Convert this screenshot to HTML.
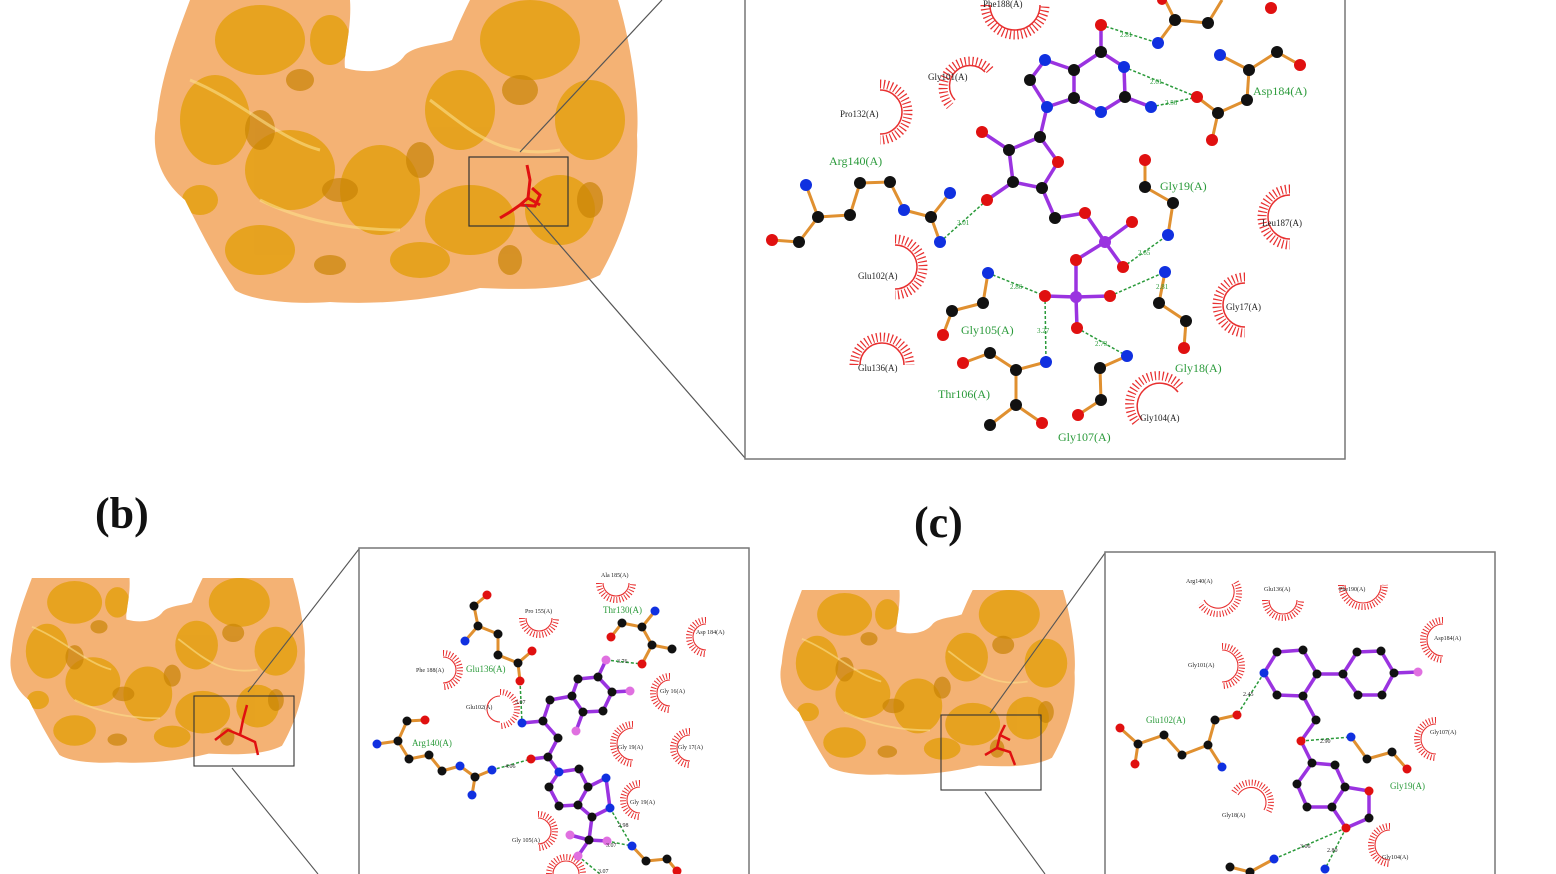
<!DOCTYPE html>
<html><head><meta charset="utf-8"><style>
html,body{margin:0;padding:0;background:#fff;}
svg{display:block;}
text{font-family:"Liberation Serif",serif;}
.lb{font-size:9px;fill:#222;}
.lg{font-size:12px;fill:#2a9a3a;}
.ls{font-size:6px;fill:#222;}
.lsg{font-size:9px;fill:#2a9a3a;}
.d{font-size:7px;fill:#2a9a3a;}
.pb line{stroke:#9a33e0;stroke-width:3.5;}
.ob line{stroke:#e09030;stroke-width:3;}
.hb line{stroke:#2a9a3a;stroke-width:1.5;stroke-dasharray:3 2;}
.k{fill:#111;} .r{fill:#e01010;} .b{fill:#1030e0;} .p{fill:#9a33e0;} .m{fill:#e070e0;}
.arc path.t{fill:none;stroke:#e83030;stroke-width:9;stroke-dasharray:1.2 2.6;}
.arc path.l{fill:none;stroke:#e83030;stroke-width:1.5;}
.arcs path.t{fill:none;stroke:#e83030;stroke-width:6;stroke-dasharray:1 2;}
.arcs path.l{fill:none;stroke:#e83030;stroke-width:1.1;}
</style></head><body>
<svg width="1556" height="874" viewBox="0 0 1556 874" xmlns="http://www.w3.org/2000/svg">
<defs>
<clipPath id="pc"><path d="M157,120 C160,80 175,40 190,0 L350,0 C352,30 343,55 345,68 C370,75 395,70 405,55 C415,45 440,45 452,40 C458,25 465,10 470,0 L618,0 C630,40 640,100 637,135 C640,190 620,240 600,275 C570,290 530,290 480,288 C430,300 380,305 330,302 C290,305 250,300 235,290 C215,260 200,230 185,200 C160,180 150,150 157,120Z"/></clipPath>
<g id="prot">
<path d="M157,120 C160,80 175,40 190,0 L350,0 C352,30 343,55 345,68 C370,75 395,70 405,55 C415,45 440,45 452,40 C458,25 465,10 470,0 L618,0 C630,40 640,100 637,135 C640,190 620,240 600,275 C570,290 530,290 480,288 C430,300 380,305 330,302 C290,305 250,300 235,290 C215,260 200,230 185,200 C160,180 150,150 157,120Z" fill="#f4b274"/>
<g clip-path="url(#pc)">
<g fill="#e4a012" opacity="0.85">
<ellipse cx="215" cy="120" rx="35" ry="45"/><ellipse cx="260" cy="40" rx="45" ry="35"/>
<ellipse cx="330" cy="40" rx="20" ry="25"/>
<ellipse cx="290" cy="170" rx="45" ry="40"/><ellipse cx="380" cy="190" rx="40" ry="45"/>
<ellipse cx="460" cy="110" rx="35" ry="40"/><ellipse cx="530" cy="40" rx="50" ry="40"/>
<ellipse cx="590" cy="120" rx="35" ry="40"/><ellipse cx="470" cy="220" rx="45" ry="35"/>
<ellipse cx="260" cy="250" rx="35" ry="25"/><ellipse cx="560" cy="210" rx="35" ry="35"/>
<ellipse cx="420" cy="260" rx="30" ry="18"/><ellipse cx="200" cy="200" rx="18" ry="15"/>
</g>
<g fill="#c98406" opacity="0.7">
<ellipse cx="260" cy="130" rx="15" ry="20"/><ellipse cx="340" cy="190" rx="18" ry="12"/>
<ellipse cx="520" cy="90" rx="18" ry="15"/><ellipse cx="420" cy="160" rx="14" ry="18"/>
<ellipse cx="590" cy="200" rx="13" ry="18"/><ellipse cx="300" cy="80" rx="14" ry="11"/>
<ellipse cx="330" cy="265" rx="16" ry="10"/><ellipse cx="510" cy="260" rx="12" ry="15"/>
</g>
<path d="M190,80 C240,100 280,140 320,150 M430,100 C470,130 500,160 560,150 M260,200 C300,220 350,230 400,230" stroke="#fbe08a" stroke-width="3" fill="none" opacity="0.6"/>
</g>
</g>
</defs>

<!-- top protein -->
<use href="#prot"/>
<rect x="469" y="157" width="99" height="69" fill="none" stroke="#333" stroke-width="1.2"/>
<path d="M500,218 L510,212 L520,205 L528,198 L530,180 L527,165 M520,205 L535,206 L540,195 L532,188 M528,198 L540,205" stroke="#e01010" stroke-width="3" fill="none"/>
<line x1="520" y1="152" x2="662" y2="0" stroke="#555" stroke-width="1.2"/>
<line x1="525" y1="205" x2="745" y2="458" stroke="#555" stroke-width="1.2"/>

<!-- top panel -->
<rect x="745" y="-2" width="600" height="461" fill="#fff" stroke="#777" stroke-width="1.5"/>

<g class="arc">
<path class="l" d="M990,5 A25,25 0 0 0 1040,5"/><path class="t" d="M985,5 A30,30 0 0 0 1045,5"/>
<path class="l" d="M985,72 A20,20 0 0 0 955,100"/><path class="t" d="M990,70 A26,26 0 0 0 950,106"/>
<path class="l" d="M880,90 A22,22 0 0 1 880,134"/><path class="t" d="M880,84 A28,28 0 0 1 880,140"/>
<path class="l" d="M895,245 A22,22 0 0 1 895,289"/><path class="t" d="M895,239 A28,28 0 0 1 895,295"/>
<path class="l" d="M860,365 A22,22 0 0 1 904,365"/><path class="t" d="M854,365 A28,28 0 0 1 910,365"/>
<path class="l" d="M1290,195 A22,22 0 0 0 1290,239"/><path class="t" d="M1290,189 A28,28 0 0 0 1290,245"/>
<path class="l" d="M1245,283 A22,22 0 0 0 1245,327"/><path class="t" d="M1245,277 A28,28 0 0 0 1245,333"/>
<path class="l" d="M1142,420 A22,22 0 0 1 1178,392"/><path class="t" d="M1136,422 A28,28 0 0 1 1180,386"/>
</g>

<g class="hb">
<line x1="1101" y1="25" x2="1158" y2="43"/><line x1="1124" y1="67" x2="1197" y2="97"/>
<line x1="1151" y1="107" x2="1197" y2="97"/><line x1="987" y1="200" x2="940" y2="242"/>
<line x1="1123" y1="267" x2="1168" y2="235"/><line x1="988" y1="273" x2="1045" y2="296"/>
<line x1="1110" y1="296" x2="1165" y2="272"/><line x1="1045" y1="296" x2="1046" y2="362"/>
<line x1="1077" y1="328" x2="1127" y2="356"/>
</g>

<g class="ob">
<line x1="1175" y1="20" x2="1208" y2="23"/><line x1="1175" y1="20" x2="1158" y2="43"/><line x1="1175" y1="20" x2="1165" y2="0"/><line x1="1208" y1="23" x2="1222" y2="0"/>
<line x1="1220" y1="55" x2="1249" y2="70"/><line x1="1249" y1="70" x2="1277" y2="52"/><line x1="1277" y1="52" x2="1300" y2="65"/><line x1="1249" y1="70" x2="1247" y2="100"/><line x1="1247" y1="100" x2="1218" y2="113"/><line x1="1218" y1="113" x2="1197" y2="97"/><line x1="1218" y1="113" x2="1212" y2="140"/>
<line x1="806" y1="185" x2="818" y2="217"/><line x1="818" y1="217" x2="799" y2="242"/><line x1="799" y1="242" x2="772" y2="240"/><line x1="818" y1="217" x2="850" y2="215"/><line x1="850" y1="215" x2="860" y2="183"/><line x1="860" y1="183" x2="890" y2="182"/><line x1="890" y1="182" x2="904" y2="210"/><line x1="904" y1="210" x2="931" y2="217"/><line x1="931" y1="217" x2="950" y2="193"/><line x1="931" y1="217" x2="940" y2="242"/>
<line x1="1145" y1="160" x2="1145" y2="187"/><line x1="1145" y1="187" x2="1173" y2="203"/><line x1="1173" y1="203" x2="1168" y2="235"/>
<line x1="1165" y1="272" x2="1159" y2="303"/><line x1="1159" y1="303" x2="1186" y2="321"/><line x1="1186" y1="321" x2="1184" y2="348"/>
<line x1="988" y1="273" x2="983" y2="303"/><line x1="983" y1="303" x2="952" y2="311"/><line x1="952" y1="311" x2="943" y2="335"/>
<line x1="1046" y1="362" x2="1016" y2="370"/><line x1="1016" y1="370" x2="990" y2="353"/><line x1="990" y1="353" x2="963" y2="363"/><line x1="1016" y1="370" x2="1016" y2="405"/><line x1="1016" y1="405" x2="1042" y2="423"/><line x1="1016" y1="405" x2="990" y2="425"/>
<line x1="1127" y1="356" x2="1100" y2="368"/><line x1="1100" y1="368" x2="1101" y2="400"/><line x1="1101" y1="400" x2="1078" y2="415"/>
</g>
<g class="pb">
<line x1="1101" y1="25" x2="1101" y2="52"/><line x1="1101" y1="52" x2="1124" y2="67"/><line x1="1124" y1="67" x2="1125" y2="97"/><line x1="1125" y1="97" x2="1101" y2="112"/><line x1="1101" y1="112" x2="1074" y2="98"/><line x1="1074" y1="98" x2="1074" y2="70"/><line x1="1074" y1="70" x2="1101" y2="52"/><line x1="1074" y1="70" x2="1045" y2="60"/><line x1="1045" y1="60" x2="1030" y2="80"/><line x1="1030" y1="80" x2="1047" y2="107"/><line x1="1047" y1="107" x2="1074" y2="98"/><line x1="1125" y1="97" x2="1151" y2="107"/>
<line x1="1047" y1="107" x2="1040" y2="137"/><line x1="1040" y1="137" x2="1058" y2="162"/><line x1="1058" y1="162" x2="1042" y2="188"/><line x1="1042" y1="188" x2="1013" y2="182"/><line x1="1013" y1="182" x2="1009" y2="150"/><line x1="1009" y1="150" x2="1040" y2="137"/><line x1="1009" y1="150" x2="982" y2="132"/><line x1="1013" y1="182" x2="987" y2="200"/><line x1="1042" y1="188" x2="1055" y2="218"/><line x1="1055" y1="218" x2="1085" y2="213"/><line x1="1085" y1="213" x2="1105" y2="242"/><line x1="1105" y1="242" x2="1132" y2="222"/><line x1="1105" y1="242" x2="1123" y2="267"/><line x1="1105" y1="242" x2="1076" y2="260"/><line x1="1076" y1="260" x2="1076" y2="297"/><line x1="1076" y1="297" x2="1045" y2="296"/><line x1="1076" y1="297" x2="1110" y2="296"/><line x1="1076" y1="297" x2="1077" y2="328"/>
</g>
<g>
<circle class="k" cx="1175" cy="20" r="6"/><circle class="k" cx="1208" cy="23" r="6"/><circle class="b" cx="1158" cy="43" r="6"/><circle class="r" cx="1271" cy="8" r="6"/><circle class="r" cx="1162" cy="0" r="5"/>
<circle class="b" cx="1220" cy="55" r="6"/><circle class="k" cx="1249" cy="70" r="6"/><circle class="k" cx="1277" cy="52" r="6"/><circle class="r" cx="1300" cy="65" r="6"/><circle class="k" cx="1247" cy="100" r="6"/><circle class="k" cx="1218" cy="113" r="6"/><circle class="r" cx="1197" cy="97" r="6"/><circle class="r" cx="1212" cy="140" r="6"/>
<circle class="r" cx="1101" cy="25" r="6"/><circle class="k" cx="1101" cy="52" r="6"/><circle class="b" cx="1124" cy="67" r="6"/><circle class="k" cx="1125" cy="97" r="6"/><circle class="b" cx="1151" cy="107" r="6"/><circle class="b" cx="1101" cy="112" r="6"/><circle class="k" cx="1074" cy="98" r="6"/><circle class="k" cx="1074" cy="70" r="6"/><circle class="b" cx="1045" cy="60" r="6"/><circle class="k" cx="1030" cy="80" r="6"/><circle class="b" cx="1047" cy="107" r="6"/>
<circle class="k" cx="1040" cy="137" r="6"/><circle class="r" cx="1058" cy="162" r="6"/><circle class="k" cx="1042" cy="188" r="6"/><circle class="k" cx="1013" cy="182" r="6"/><circle class="k" cx="1009" cy="150" r="6"/><circle class="r" cx="982" cy="132" r="6"/><circle class="r" cx="987" cy="200" r="6"/><circle class="k" cx="1055" cy="218" r="6"/><circle class="r" cx="1085" cy="213" r="6"/><circle class="p" cx="1105" cy="242" r="6"/><circle class="r" cx="1132" cy="222" r="6"/><circle class="r" cx="1123" cy="267" r="6"/><circle class="r" cx="1076" cy="260" r="6"/><circle class="p" cx="1076" cy="297" r="6"/><circle class="r" cx="1045" cy="296" r="6"/><circle class="r" cx="1110" cy="296" r="6"/><circle class="r" cx="1077" cy="328" r="6"/>
<circle class="b" cx="806" cy="185" r="6"/><circle class="k" cx="818" cy="217" r="6"/><circle class="k" cx="799" cy="242" r="6"/><circle class="r" cx="772" cy="240" r="6"/><circle class="k" cx="850" cy="215" r="6"/><circle class="k" cx="860" cy="183" r="6"/><circle class="k" cx="890" cy="182" r="6"/><circle class="b" cx="904" cy="210" r="6"/><circle class="k" cx="931" cy="217" r="6"/><circle class="b" cx="950" cy="193" r="6"/><circle class="b" cx="940" cy="242" r="6"/>
<circle class="r" cx="1145" cy="160" r="6"/><circle class="k" cx="1145" cy="187" r="6"/><circle class="k" cx="1173" cy="203" r="6"/><circle class="b" cx="1168" cy="235" r="6"/>
<circle class="b" cx="1165" cy="272" r="6"/><circle class="k" cx="1159" cy="303" r="6"/><circle class="k" cx="1186" cy="321" r="6"/><circle class="r" cx="1184" cy="348" r="6"/>
<circle class="b" cx="988" cy="273" r="6"/><circle class="k" cx="983" cy="303" r="6"/><circle class="k" cx="952" cy="311" r="6"/><circle class="r" cx="943" cy="335" r="6"/>
<circle class="b" cx="1046" cy="362" r="6"/><circle class="k" cx="1016" cy="370" r="6"/><circle class="k" cx="990" cy="353" r="6"/><circle class="r" cx="963" cy="363" r="6"/><circle class="k" cx="1016" cy="405" r="6"/><circle class="r" cx="1042" cy="423" r="6"/><circle class="k" cx="990" cy="425" r="6"/>
<circle class="b" cx="1127" cy="356" r="6"/><circle class="k" cx="1100" cy="368" r="6"/><circle class="k" cx="1101" cy="400" r="6"/><circle class="r" cx="1078" cy="415" r="6"/>
</g>
<text class="lb" x="983" y="7">Phe188(A)</text>
<text class="lb" x="928" y="80">Gly101(A)</text>
<text class="lb" x="840" y="117">Pro132(A)</text>
<text class="lb" x="858" y="279">Glu102(A)</text>
<text class="lb" x="858" y="371">Glu136(A)</text>
<text class="lb" x="1262" y="226">Leu187(A)</text>
<text class="lb" x="1226" y="310">Gly17(A)</text>
<text class="lb" x="1140" y="421">Gly104(A)</text>
<text class="lg" x="829" y="165">Arg140(A)</text>
<text class="lg" x="1253" y="95">Asp184(A)</text>
<text class="lg" x="1160" y="190">Gly19(A)</text>
<text class="lg" x="961" y="334">Gly105(A)</text>
<text class="lg" x="938" y="398">Thr106(A)</text>
<text class="lg" x="1175" y="372">Gly18(A)</text>
<text class="lg" x="1058" y="441">Gly107(A)</text>
<text class="d" x="1120" y="37">2.81</text><text class="d" x="1150" y="84">2.61</text><text class="d" x="1165" y="105">2.56</text><text class="d" x="957" y="225">3.01</text><text class="d" x="1138" y="255">2.65</text><text class="d" x="1010" y="289">2.86</text><text class="d" x="1156" y="289">2.81</text><text class="d" x="1037" y="333">3.27</text><text class="d" x="1095" y="346">2.73</text>

<text x="95" y="528" font-family="Liberation Sans" font-weight="bold" font-size="44" fill="#111">(b)</text>
<text x="914" y="537" font-family="Liberation Sans" font-weight="bold" font-size="44" fill="#111">(c)</text>

<!-- (b) -->
<use href="#prot" transform="translate(-84,578) scale(0.61)"/>
<rect x="194" y="696" width="100" height="70" fill="none" stroke="#333" stroke-width="1.1"/>
<path d="M215,740 L228,730 L240,735 L243,720 L247,705 M240,735 L255,742 L258,755" stroke="#e01010" stroke-width="2.5" fill="none"/>
<line x1="248" y1="692" x2="359" y2="549" stroke="#555" stroke-width="1.1"/>
<line x1="232" y1="768" x2="318" y2="874" stroke="#555" stroke-width="1.1"/>
<rect x="359" y="548" width="390" height="330" fill="#fff" stroke="#777" stroke-width="1.5"/>
<g class="arcs">
<path class="l" d="M603,583 A13,13 0 0 0 629,583"/><path class="t" d="M599,583 A17,17 0 0 0 633,583"/>
<path class="l" d="M526,618 A13,13 0 0 0 552,618"/><path class="t" d="M522,618 A17,17 0 0 0 556,618"/>
<path class="l" d="M706,624 A13,13 0 0 0 706,650"/><path class="t" d="M706,620 A17,17 0 0 0 706,654"/>
<path class="l" d="M443,657 A13,13 0 0 1 443,683"/><path class="t" d="M443,653 A17,17 0 0 1 443,687"/>
<path class="l" d="M500,696 A13,13 0 0 0 500,722"/><path class="t" d="M500,692 A17,17 0 0 1 500,726"/>
<path class="l" d="M670,680 A13,13 0 0 0 670,706"/><path class="t" d="M670,676 A17,17 0 0 0 670,710"/>
<path class="l" d="M633,728 A16,16 0 0 0 633,760"/><path class="t" d="M633,724 A20,20 0 0 0 633,764"/>
<path class="l" d="M690,735 A13,13 0 0 0 690,761"/><path class="t" d="M690,731 A17,17 0 0 0 690,765"/>
<path class="l" d="M640,787 A13,13 0 0 0 640,813"/><path class="t" d="M640,783 A17,17 0 0 0 640,817"/>
<path class="l" d="M538,818 A13,13 0 0 1 538,844"/><path class="t" d="M538,814 A17,17 0 0 1 538,848"/>
<path class="l" d="M553,874 A13,13 0 0 1 579,874"/><path class="t" d="M549,874 A17,17 0 0 1 583,874"/>
</g>
<g class="hb">
<line x1="520" y1="681" x2="522" y2="723"/><line x1="606" y1="660" x2="642" y2="664"/><line x1="492" y1="770" x2="531" y2="759"/><line x1="610" y1="808" x2="632" y2="846"/><line x1="607" y1="841" x2="632" y2="846"/><line x1="578" y1="856" x2="600" y2="874"/>
</g>
<g class="ob" style="stroke-width:2">
<line x1="487" y1="595" x2="474" y2="606"/><line x1="474" y1="606" x2="478" y2="626"/><line x1="478" y1="626" x2="465" y2="641"/><line x1="478" y1="626" x2="498" y2="634"/><line x1="498" y1="634" x2="498" y2="655"/><line x1="498" y1="655" x2="518" y2="663"/><line x1="518" y1="663" x2="532" y2="651"/><line x1="518" y1="663" x2="520" y2="681"/>
<line x1="655" y1="611" x2="642" y2="627"/><line x1="642" y1="627" x2="622" y2="623"/><line x1="622" y1="623" x2="611" y2="637"/><line x1="642" y1="627" x2="652" y2="645"/><line x1="652" y1="645" x2="642" y2="664"/><line x1="652" y1="645" x2="672" y2="649"/>
<line x1="377" y1="744" x2="398" y2="741"/><line x1="398" y1="741" x2="407" y2="721"/><line x1="407" y1="721" x2="425" y2="720"/><line x1="398" y1="741" x2="409" y2="759"/><line x1="409" y1="759" x2="429" y2="755"/><line x1="429" y1="755" x2="442" y2="771"/><line x1="442" y1="771" x2="460" y2="766"/><line x1="460" y1="766" x2="475" y2="777"/><line x1="475" y1="777" x2="492" y2="770"/><line x1="475" y1="777" x2="472" y2="795"/>
<line x1="632" y1="846" x2="646" y2="861"/><line x1="646" y1="861" x2="667" y2="859"/><line x1="667" y1="859" x2="677" y2="871"/>
</g>
<g class="pb" style="stroke-width:2.5">
<line x1="578" y1="679" x2="598" y2="677"/><line x1="598" y1="677" x2="612" y2="692"/><line x1="612" y1="692" x2="603" y2="711"/><line x1="603" y1="711" x2="583" y2="712"/><line x1="583" y1="712" x2="572" y2="696"/><line x1="572" y1="696" x2="578" y2="679"/><line x1="598" y1="677" x2="606" y2="660"/><line x1="612" y1="692" x2="630" y2="691"/><line x1="583" y1="712" x2="576" y2="731"/>
<line x1="572" y1="696" x2="550" y2="700"/><line x1="550" y1="700" x2="543" y2="721"/><line x1="543" y1="721" x2="522" y2="723"/><line x1="543" y1="721" x2="558" y2="738"/><line x1="558" y1="738" x2="548" y2="757"/><line x1="548" y1="757" x2="531" y2="759"/><line x1="548" y1="757" x2="559" y2="772"/>
<line x1="559" y1="772" x2="579" y2="769"/><line x1="579" y1="769" x2="588" y2="787"/><line x1="588" y1="787" x2="578" y2="805"/><line x1="578" y1="805" x2="559" y2="806"/><line x1="559" y1="806" x2="549" y2="787"/><line x1="549" y1="787" x2="559" y2="772"/><line x1="588" y1="787" x2="606" y2="778"/><line x1="606" y1="778" x2="610" y2="808"/><line x1="610" y1="808" x2="592" y2="817"/><line x1="592" y1="817" x2="578" y2="805"/><line x1="592" y1="817" x2="589" y2="840"/><line x1="589" y1="840" x2="570" y2="835"/><line x1="589" y1="840" x2="607" y2="841"/><line x1="589" y1="840" x2="578" y2="856"/>
</g>
<g>
<circle class="r" cx="487" cy="595" r="4.5"/><circle class="k" cx="474" cy="606" r="4.5"/><circle class="k" cx="478" cy="626" r="4.5"/><circle class="b" cx="465" cy="641" r="4.5"/><circle class="k" cx="498" cy="634" r="4.5"/><circle class="k" cx="498" cy="655" r="4.5"/><circle class="k" cx="518" cy="663" r="4.5"/><circle class="r" cx="532" cy="651" r="4.5"/><circle class="r" cx="520" cy="681" r="4.5"/>
<circle class="b" cx="655" cy="611" r="4.5"/><circle class="k" cx="642" cy="627" r="4.5"/><circle class="k" cx="622" cy="623" r="4.5"/><circle class="r" cx="611" cy="637" r="4.5"/><circle class="k" cx="652" cy="645" r="4.5"/><circle class="r" cx="642" cy="664" r="4.5"/><circle class="k" cx="672" cy="649" r="4.5"/>
<circle class="k" cx="578" cy="679" r="4.5"/><circle class="k" cx="598" cy="677" r="4.5"/><circle class="k" cx="612" cy="692" r="4.5"/><circle class="k" cx="603" cy="711" r="4.5"/><circle class="k" cx="583" cy="712" r="4.5"/><circle class="k" cx="572" cy="696" r="4.5"/><circle class="m" cx="606" cy="660" r="4.5"/><circle class="m" cx="630" cy="691" r="4.5"/><circle class="m" cx="576" cy="731" r="4.5"/>
<circle class="k" cx="550" cy="700" r="4.5"/><circle class="k" cx="543" cy="721" r="4.5"/><circle class="b" cx="522" cy="723" r="4.5"/><circle class="k" cx="558" cy="738" r="4.5"/><circle class="k" cx="548" cy="757" r="4.5"/><circle class="r" cx="531" cy="759" r="4.5"/>
<circle class="b" cx="559" cy="772" r="4.5"/><circle class="k" cx="579" cy="769" r="4.5"/><circle class="k" cx="588" cy="787" r="4.5"/><circle class="k" cx="578" cy="805" r="4.5"/><circle class="k" cx="559" cy="806" r="4.5"/><circle class="k" cx="549" cy="787" r="4.5"/><circle class="b" cx="606" cy="778" r="4.5"/><circle class="b" cx="610" cy="808" r="4.5"/><circle class="k" cx="592" cy="817" r="4.5"/><circle class="k" cx="589" cy="840" r="4.5"/><circle class="m" cx="570" cy="835" r="4.5"/><circle class="m" cx="607" cy="841" r="4.5"/><circle class="m" cx="578" cy="856" r="4.5"/>
<circle class="b" cx="377" cy="744" r="4.5"/><circle class="k" cx="398" cy="741" r="4.5"/><circle class="k" cx="407" cy="721" r="4.5"/><circle class="r" cx="425" cy="720" r="4.5"/><circle class="k" cx="409" cy="759" r="4.5"/><circle class="k" cx="429" cy="755" r="4.5"/><circle class="k" cx="442" cy="771" r="4.5"/><circle class="b" cx="460" cy="766" r="4.5"/><circle class="k" cx="475" cy="777" r="4.5"/><circle class="b" cx="492" cy="770" r="4.5"/><circle class="b" cx="472" cy="795" r="4.5"/>
<circle class="b" cx="632" cy="846" r="4.5"/><circle class="k" cx="646" cy="861" r="4.5"/><circle class="k" cx="667" cy="859" r="4.5"/><circle class="r" cx="677" cy="871" r="4.5"/>
</g>
<text class="ls" x="601" y="577">Ala 185(A)</text><text class="ls" x="525" y="613">Pro 155(A)</text>
<text class="lsg" x="603" y="613">Thr130(A)</text><text class="ls" x="696" y="634">Asp 184(A)</text>
<text class="ls" x="416" y="672">Phe 188(A)</text><text class="lsg" x="466" y="672">Glu136(A)</text>
<text class="ls" x="466" y="709">Glu102(A)</text><text class="ls" x="660" y="693">Gly 16(A)</text>
<text class="lsg" x="412" y="746">Arg140(A)</text><text class="ls" x="618" y="749">Gly 19(A)</text>
<text class="ls" x="678" y="749">Gly 17(A)</text><text class="ls" x="630" y="804">Gly 19(A)</text>
<text class="ls" x="512" y="842">Gly 105(A)</text>
<text class="ls" x="515" y="704" fill="#2a9a3a">3.07</text><text class="ls" x="617" y="663" fill="#2a9a3a">3.76</text><text class="ls" x="505" y="768" fill="#2a9a3a">4.06</text><text class="ls" x="618" y="827" fill="#2a9a3a">2.98</text><text class="ls" x="606" y="847" fill="#2a9a3a">3.07</text><text class="ls" x="598" y="873" fill="#2a9a3a">3.07</text>

<!-- (c) -->
<use href="#prot" transform="translate(686,590) scale(0.61)"/>
<rect x="941" y="715" width="100" height="75" fill="none" stroke="#333" stroke-width="1.1"/>
<path d="M985,755 L997,748 L1000,735 L1005,725 M997,748 L1010,752 L1015,765 M1000,735 L1010,740" stroke="#e01010" stroke-width="2.5" fill="none"/>
<line x1="990" y1="713" x2="1105" y2="553" stroke="#555" stroke-width="1.1"/>
<line x1="985" y1="792" x2="1045" y2="874" stroke="#555" stroke-width="1.1"/>
<rect x="1105" y="552" width="390" height="326" fill="#fff" stroke="#777" stroke-width="1.5"/>
<g class="arcs">
<path class="l" d="M1232,584 A14,14 0 0 1 1204,600"/><path class="t" d="M1236,582 A18,18 0 0 1 1200,604"/>
<path class="l" d="M1269,600 A14,14 0 0 0 1297,600"/><path class="t" d="M1265,600 A18,18 0 0 0 1301,600"/>
<path class="l" d="M1345,585 A18,18 0 0 0 1381,585"/><path class="t" d="M1341,585 A22,22 0 0 0 1385,585"/>
<path class="l" d="M1443,624 A16,16 0 0 0 1443,656"/><path class="t" d="M1443,620 A20,20 0 0 0 1443,660"/>
<path class="l" d="M1222,650 A16,16 0 0 1 1222,682"/><path class="t" d="M1222,646 A20,20 0 0 1 1222,686"/>
<path class="l" d="M1436,724 A15,15 0 0 0 1436,754"/><path class="t" d="M1436,720 A19,19 0 0 0 1436,758"/>
<path class="l" d="M1238,795 A15,15 0 0 1 1264,810"/><path class="t" d="M1234,792 A19,19 0 0 1 1268,813"/>
<path class="l" d="M1390,830 A15,15 0 0 0 1390,860"/><path class="t" d="M1390,826 A19,19 0 0 0 1390,864"/>
</g>
<g class="hb">
<line x1="1264" y1="673" x2="1237" y2="715"/><line x1="1301" y1="741" x2="1351" y2="737"/><line x1="1346" y1="828" x2="1274" y2="859"/><line x1="1346" y1="828" x2="1325" y2="869"/>
</g>
<g class="ob" style="stroke-width:2">
<line x1="1120" y1="728" x2="1138" y2="744"/><line x1="1138" y1="744" x2="1135" y2="764"/><line x1="1138" y1="744" x2="1164" y2="735"/><line x1="1164" y1="735" x2="1182" y2="755"/><line x1="1182" y1="755" x2="1208" y2="745"/><line x1="1208" y1="745" x2="1215" y2="720"/><line x1="1215" y1="720" x2="1237" y2="715"/><line x1="1208" y1="745" x2="1222" y2="767"/>
<line x1="1351" y1="737" x2="1367" y2="759"/><line x1="1367" y1="759" x2="1392" y2="752"/><line x1="1392" y1="752" x2="1407" y2="769"/>
<line x1="1274" y1="859" x2="1250" y2="872"/><line x1="1230" y1="867" x2="1250" y2="872"/>
</g>
<g class="pb" style="stroke-width:2.5">
<line x1="1277" y1="652" x2="1303" y2="650"/><line x1="1303" y1="650" x2="1317" y2="674"/><line x1="1317" y1="674" x2="1303" y2="696"/><line x1="1303" y1="696" x2="1277" y2="695"/><line x1="1277" y1="695" x2="1264" y2="673"/><line x1="1264" y1="673" x2="1277" y2="652"/>
<line x1="1317" y1="674" x2="1343" y2="674"/>
<line x1="1357" y1="652" x2="1381" y2="651"/><line x1="1381" y1="651" x2="1394" y2="673"/><line x1="1394" y1="673" x2="1382" y2="695"/><line x1="1382" y1="695" x2="1358" y2="695"/><line x1="1358" y1="695" x2="1343" y2="674"/><line x1="1343" y1="674" x2="1357" y2="652"/><line x1="1394" y1="673" x2="1418" y2="672"/>
<line x1="1303" y1="696" x2="1316" y2="720"/><line x1="1316" y1="720" x2="1301" y2="741"/><line x1="1301" y1="741" x2="1312" y2="763"/>
<line x1="1312" y1="763" x2="1335" y2="765"/><line x1="1335" y1="765" x2="1345" y2="787"/><line x1="1345" y1="787" x2="1332" y2="807"/><line x1="1332" y1="807" x2="1307" y2="807"/><line x1="1307" y1="807" x2="1297" y2="784"/><line x1="1297" y1="784" x2="1312" y2="763"/><line x1="1345" y1="787" x2="1369" y2="791"/><line x1="1369" y1="791" x2="1369" y2="818"/><line x1="1369" y1="818" x2="1346" y2="828"/><line x1="1346" y1="828" x2="1332" y2="807"/>
</g>
<g>
<circle class="k" cx="1277" cy="652" r="4.5"/><circle class="k" cx="1303" cy="650" r="4.5"/><circle class="k" cx="1317" cy="674" r="4.5"/><circle class="k" cx="1303" cy="696" r="4.5"/><circle class="k" cx="1277" cy="695" r="4.5"/><circle class="b" cx="1264" cy="673" r="4.5"/>
<circle class="k" cx="1357" cy="652" r="4.5"/><circle class="k" cx="1381" cy="651" r="4.5"/><circle class="k" cx="1394" cy="673" r="4.5"/><circle class="k" cx="1382" cy="695" r="4.5"/><circle class="k" cx="1358" cy="695" r="4.5"/><circle class="k" cx="1343" cy="674" r="4.5"/><circle class="m" cx="1418" cy="672" r="4.5"/>
<circle class="k" cx="1316" cy="720" r="4.5"/><circle class="r" cx="1301" cy="741" r="4.5"/>
<circle class="k" cx="1312" cy="763" r="4.5"/><circle class="k" cx="1335" cy="765" r="4.5"/><circle class="k" cx="1345" cy="787" r="4.5"/><circle class="k" cx="1332" cy="807" r="4.5"/><circle class="k" cx="1307" cy="807" r="4.5"/><circle class="k" cx="1297" cy="784" r="4.5"/><circle class="r" cx="1369" cy="791" r="4.5"/><circle class="k" cx="1369" cy="818" r="4.5"/><circle class="r" cx="1346" cy="828" r="4.5"/>
<circle class="r" cx="1120" cy="728" r="4.5"/><circle class="k" cx="1138" cy="744" r="4.5"/><circle class="r" cx="1135" cy="764" r="4.5"/><circle class="k" cx="1164" cy="735" r="4.5"/><circle class="k" cx="1182" cy="755" r="4.5"/><circle class="k" cx="1208" cy="745" r="4.5"/><circle class="k" cx="1215" cy="720" r="4.5"/><circle class="r" cx="1237" cy="715" r="4.5"/><circle class="b" cx="1222" cy="767" r="4.5"/>
<circle class="b" cx="1351" cy="737" r="4.5"/><circle class="k" cx="1367" cy="759" r="4.5"/><circle class="k" cx="1392" cy="752" r="4.5"/><circle class="r" cx="1407" cy="769" r="4.5"/>
<circle class="b" cx="1274" cy="859" r="4.5"/><circle class="k" cx="1230" cy="867" r="4.5"/><circle class="k" cx="1250" cy="872" r="4.5"/><circle class="b" cx="1325" cy="869" r="4.5"/>
</g>
<text class="ls" x="1186" y="583">Arg140(A)</text><text class="ls" x="1264" y="591">Glu136(A)</text>
<text class="ls" x="1339" y="591">Phe190(A)</text><text class="ls" x="1434" y="640">Asp184(A)</text>
<text class="ls" x="1188" y="667">Gly101(A)</text><text class="lsg" x="1146" y="723">Glu102(A)</text>
<text class="ls" x="1430" y="734">Gly107(A)</text><text class="lsg" x="1390" y="789">Gly19(A)</text>
<text class="ls" x="1222" y="817">Gly18(A)</text><text class="ls" x="1382" y="859">Gly104(A)</text>
<text class="ls" x="1243" y="696" fill="#2a9a3a">2.45</text><text class="ls" x="1320" y="743" fill="#2a9a3a">2.90</text><text class="ls" x="1300" y="848" fill="#2a9a3a">3.06</text><text class="ls" x="1327" y="852" fill="#2a9a3a">2.80</text>
</svg>
</body></html>
